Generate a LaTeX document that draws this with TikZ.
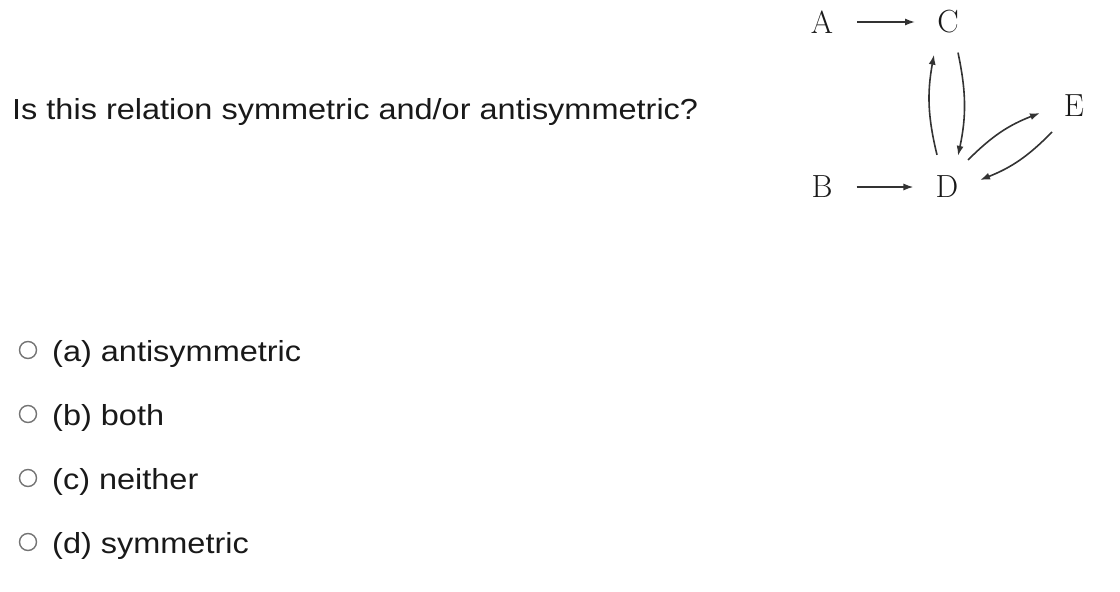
\documentclass[tikz,border=0pt]{standalone}
\usepackage{fontspec}
\setsansfont{Liberation Sans}
\usetikzlibrary{arrows.meta}
\tikzset{
  qtext/.style={anchor=base west, inner sep=0pt, font=\sffamily\fontsize{29}{34}\selectfont, text=black!90},
  radio/.style={circle, draw=black!55, line width=1.4pt, minimum size=17pt, inner sep=0pt},
  vert/.style={inner sep=0pt, font=\fontsize{32}{38}\selectfont, text=black!90},
  arr/.style={-{Latex[length=10pt,width=7pt]}, line width=1.6pt, draw=black!80},
}
\begin{document}
\begin{tikzpicture}[x=1pt,y=-1pt]
\useasboundingbox (0,0) rectangle (1120,592);
% question
\node[qtext] (q) at (12,119) {\scalebox{1.12}[1]{Is this relation symmetric and/or antisymmetric?}};
% options
\node[radio] (ra) at (28,350) {};
\node[radio] (rb) at (28,414) {};
\node[radio] (rc) at (28,478) {};
\node[radio] (rd) at (28,542) {};
\node[qtext] (oa) at (52,361) {\scalebox{1.12}[1]{(a) antisymmetric}};
\node[qtext] (ob) at (52,425) {\scalebox{1.12}[1]{(b) both}};
\node[qtext] (oc) at (52,489) {\scalebox{1.12}[1]{(c) neither}};
\node[qtext] (od) at (52,553) {\scalebox{1.12}[1]{(d) symmetric}};
% graph
\node[vert] (A) at (822,22) {A};
\node[vert] (C) at (948,22) {C};
\node[vert] (B) at (822,187) {B};
\node[vert] (D) at (947,187) {D};
\node[vert] (E) at (1074,106) {E};
\draw[arr] ([xshift=24pt]A.east) -- ([xshift=-22pt]C.west);
\draw[arr] ([xshift=24pt]B.east) -- ([xshift=-22pt]D.west);
\draw[arr] ([xshift=10pt,yshift=-19pt]C.south) to[bend left=12] ([xshift=11pt,yshift=20pt]D.north);
\draw[arr] ([xshift=-10pt,yshift=21pt]D.north) to[bend left=12] ([xshift=-14pt,yshift=-21pt]C.south);
\draw[arr] ([xshift=21pt,yshift=27pt]D.center) to[bend left=12] ([xshift=-34pt,yshift=-7pt]E.center);
\draw[arr] ([xshift=-22pt,yshift=-26pt]E.center) to[bend left=12] ([xshift=33pt,yshift=7pt]D.center);
\end{tikzpicture}
\end{document}
